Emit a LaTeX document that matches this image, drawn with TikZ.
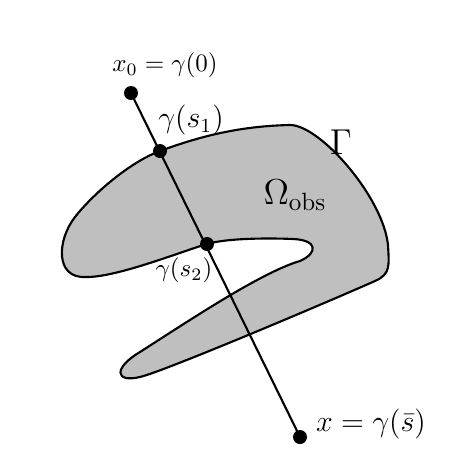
\documentclass[tikz,border=0pt]{standalone}
\begin{document}
\begin{tikzpicture}[x=0.4pt,y=-0.4pt,
  dot/.style={circle,fill=black,inner sep=0pt,minimum size=5.6pt},
  edge/.style={line width=0.85pt,line join=round}]
\useasboundingbox (0,0) rectangle (474,474);
\draw[edge,fill=black!25] (160,151)
  .. controls (206,134) and (245,126) .. (290,125)
  .. controls (320,125) and (383,197) .. (388,245)
  .. controls (389,265) and (391,274) .. (375,281)
  .. controls (330,301) and (165,371) .. (140,377)
  .. controls (115,383) and (113,368) .. (140,352)
  .. controls (190,320) and (262,272) .. (300,261)
  .. controls (318,253) and (318,240) .. (293,239)
  .. controls (270,238) and (227,238) .. (207,244)
  .. controls (180,252) and (115,278) .. (85,277)
  .. controls (55,278) and (57,240) .. (75,217)
  .. controls (93,194) and (130,162) .. (160,151) -- cycle;
\node[dot] (x0) at (131,93) {};
\node[dot] (xs) at (300,437) {};
\draw[edge] (x0.center) -- (xs.center);
\node[dot] (s1) at (160,151) {};
\node[dot] (s2) at (207,244) {};
\node (lx0) at (165,65) {$x_0=\gamma(0)$};
\node (ls1) at (191,120) {\large$\gamma(s_1)$};
\node (ls2) at (184,270) {$\gamma(s_2)$};
\node (lom) at (295,195) {\Large$\Omega_{\mathrm{obs}}$};
\node (lg) at (341,142) {\Large$\Gamma$};
\node (lx) at (371,424) {\large$x=\gamma(\bar{s})$};
\end{tikzpicture}
\end{document}
